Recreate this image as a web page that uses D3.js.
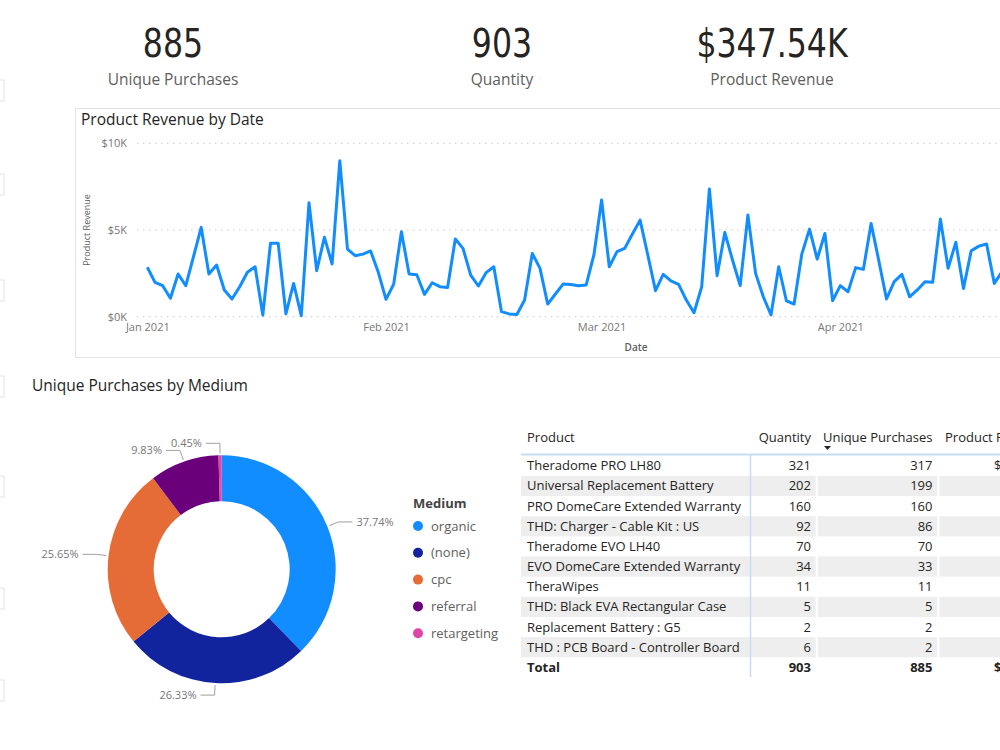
<!DOCTYPE html>
<html>
<head>
<meta charset="utf-8">
<script src="https://cdn.jsdelivr.net/npm/d3@7"></script>
<style>
  body { margin: 0; background: #fff; overflow: hidden; }
  text { font-family: "Segoe UI", "Open Sans", sans-serif; }
</style>
</head>
<body>
<script>
// ---- data ----
const kpiValues = ["885", "903", "$347.54K"];
const kpiLabels = ["Unique Purchases", "Quantity", "Product Revenue"];

// daily product revenue ($), starting 1 Jan 2021
const revenueStart = new Date(2021, 0, 1);
const dailyRevenue = [
  2850, 1980, 1790, 1060, 2460, 1790, 3460, 5150, 2460, 2980, 1540, 1020, 1730, 2560, 2880, 100,
  4230, 4230, 160, 1920, 60, 6570, 2650, 4580, 3040, 8990, 3900, 3520, 3610, 3790, 2560,
  1000, 1880, 4900, 2460, 2420, 1290, 1960, 1730, 1690, 4480, 3940, 2400, 1770, 2540, 2880,
  290, 160, 130, 960, 3650, 2790, 730, 1310, 1880, 1860, 1790, 1830, 3560,
  6730, 2880, 3750, 3940, 4770, 5570, 3560, 1500, 2440, 2060, 1860, 960, 230, 1730, 7360,
  2360, 4860, 3270, 1790, 5860, 2500, 1150, 100, 2880, 920, 730, 3610, 5050, 3320, 4800, 920,
  1790, 1440, 2830, 2730, 5380, 3230, 1020, 2020, 2440, 1150, 1540, 2020, 1980, 5630, 2790,
  4290, 1630, 3800, 4070, 4190, 1920, 2590
];
const revenueTicks = [0, 5000, 10000];

const mediums = ["organic", "(none)", "cpc", "referral", "retargeting"];
const mediumPurchases = [334, 233, 227, 87, 4];
const mediumColors = ["#118DFF", "#12239E", "#E66C37", "#6B007B", "#E044A7"];

const tableHeaders = ["Product", "Quantity", "Unique Purchases", "Product Revenue"];
const products = [
  "Theradome PRO LH80", "Universal Replacement Battery", "PRO DomeCare Extended Warranty",
  "THD: Charger - Cable Kit : US", "Theradome EVO LH40", "EVO DomeCare Extended Warranty",
  "TheraWipes", "THD: Black EVA Rectangular Case", "Replacement Battery : G5",
  "THD : PCB Board - Controller Board"
];
const productQuantity = [321, 202, 160, 92, 70, 34, 11, 5, 2, 6];
const productUnique = [317, 199, 160, 86, 70, 33, 11, 5, 2, 2];
const totalQuantity = 903;
const totalUnique = 885;
const totalRevenue = "$347.54K";

// ---- page ----
const svg = d3.select("body").append("svg")
  .attr("width", 1000)
  .attr("height", 750);

// slicer tiles clipped at the left edge
[80, 174, 280, 376, 476, 588, 680].forEach(t => {
  svg.append("rect").attr("x", -10).attr("y", t).attr("width", 14).attr("height", 21)
    .attr("fill", "#fff").attr("stroke", "#E3E3E3");
});

// KPI cards
const kpiX = [173, 502, 772];
kpiValues.forEach((v, i) => {
  svg.append("text")
    .attr("transform", `translate(${kpiX[i]},57) scale(0.9,1)`)
    .attr("text-anchor", "middle")
    .style("font-family", "'DejaVu Sans Condensed', 'DejaVu Sans', sans-serif")
    .style("font-size", "39px")
    .attr("fill", "#252423")
    .text(v);
  svg.append("text")
    .attr("x", kpiX[i]).attr("y", 85)
    .attr("text-anchor", "middle")
    .style("font-size", "15.5px")
    .attr("fill", "#605E5C")
    .text(kpiLabels[i]);
});

// ---- line chart ----
const lineG = svg.append("g");
lineG.append("rect")
  .attr("x", 75.5).attr("y", 108.5).attr("width", 1000).attr("height", 249)
  .attr("fill", "#fff").attr("stroke", "#E4E4E4");

lineG.append("text")
  .attr("x", 81).attr("y", 125)
  .style("font-size", "15.5px")
  .attr("fill", "#252423")
  .text("Product Revenue by Date");

const dates = dailyRevenue.map((d, i) => d3.timeDay.offset(revenueStart, i));
const x = d3.scaleTime()
  .domain([dates[0], dates[dates.length - 1]])
  .range([147.3, 147.3 + 7.7 * (dates.length - 1)]);
const y = d3.scaleLinear().domain([0, 10000]).range([316.7, 143.3]);

lineG.selectAll(".grid").data(revenueTicks).enter().append("line")
  .attr("x1", 137).attr("x2", 1000)
  .attr("y1", d => y(d)).attr("y2", d => y(d))
  .attr("stroke", "#C8C8C8")
  .attr("stroke-dasharray", "1.5,4.5");

const yAxis = lineG.append("g")
  .attr("transform", "translate(137,0)")
  .call(d3.axisLeft(y).tickValues(revenueTicks)
    .tickFormat(d => "$" + d / 1000 + "K").tickSize(0).tickPadding(10));
yAxis.select(".domain").remove();
yAxis.selectAll("text").style("font-size", "11px").attr("fill", "#777")
  .style("font-family", "'Segoe UI', 'Open Sans', sans-serif");

const xAxis = lineG.append("g")
  .attr("transform", "translate(0,317)")
  .call(d3.axisBottom(x).ticks(d3.timeMonth.every(1))
    .tickFormat(d3.timeFormat("%b %Y")).tickSize(0).tickPadding(6));
xAxis.select(".domain").remove();
xAxis.selectAll("text").style("font-size", "11px").attr("fill", "#777")
  .style("font-family", "'Segoe UI', 'Open Sans', sans-serif");

lineG.append("text")
  .attr("transform", "translate(90,230) rotate(-90)")
  .attr("text-anchor", "middle")
  .style("font-size", "9px")
  .attr("fill", "#605E5C")
  .text("Product Revenue");

lineG.append("text")
  .attr("x", 636).attr("y", 351)
  .attr("text-anchor", "middle")
  .style("font-size", "10px")
  .style("font-weight", "600")
  .attr("fill", "#605E5C")
  .text("Date");

lineG.append("path")
  .datum(dailyRevenue)
  .attr("fill", "none")
  .attr("stroke", "#118DFF")
  .attr("stroke-width", 3)
  .attr("stroke-linejoin", "round")
  .attr("d", d3.line().x((d, i) => x(dates[i])).y(d => y(d)));

// ---- donut ----
svg.append("text")
  .attr("x", 32).attr("y", 391)
  .style("font-size", "15.5px")
  .attr("fill", "#252423")
  .text("Unique Purchases by Medium");

const cx = 221.7, cy = 569.3, rOuter = 114, rInner = 68;
const totalPurch = d3.sum(mediumPurchases);
const pie = d3.pie().sort(null).value(d => d);
const arcs = pie(mediumPurchases);
const arc = d3.arc().innerRadius(rInner).outerRadius(rOuter);
const donut = svg.append("g").attr("transform", `translate(${cx},${cy})`);

donut.selectAll("path").data(arcs).enter().append("path")
  .attr("d", arc)
  .attr("fill", (d, i) => mediumColors[i]);

const pct = d3.format(".2%");
arcs.forEach(a => {
  const m = (a.startAngle + a.endAngle) / 2;
  const sx = Math.sin(m), sy = -Math.cos(m);
  const p0 = [sx * (rOuter + 2), sy * (rOuter + 2)];
  const p1 = [sx * 126, sy * 126];
  const dir = sx > 0 ? 1 : -1;
  const p2 = [p1[0] + dir * 14, p1[1]];
  donut.append("polyline")
    .attr("points", [p0, p1, p2].map(p => p.join(",")).join(" "))
    .attr("fill", "none").attr("stroke", "#A0A0A0").attr("stroke-width", 1);
  donut.append("text")
    .attr("x", p2[0] + dir * 4).attr("y", p2[1])
    .attr("dy", "0.35em")
    .attr("text-anchor", dir > 0 ? "start" : "end")
    .style("font-size", "11px")
    .attr("fill", "#777")
    .text(pct(a.value / totalPurch));
});

// legend
svg.append("text")
  .attr("x", 413).attr("y", 508)
  .style("font-size", "13px").style("font-weight", "bold")
  .attr("fill", "#444")
  .text("Medium");
const leg = svg.selectAll(".leg").data(mediums).enter().append("g")
  .attr("transform", (d, i) => `translate(418,${526 + i * 26.8})`);
leg.append("circle").attr("r", 5).attr("fill", (d, i) => mediumColors[i]);
leg.append("text").attr("x", 13).attr("dy", "0.35em")
  .style("font-size", "13px").attr("fill", "#605E5C").text(d => d);

// ---- table ----
const tbl = svg.append("g");
const rowTop = 455.7, rowH = 20.16, fs = "13px";
const colQtyR = 811, colUniqR = 932.5, colRevL = 945;

products.forEach((p, i) => {
  if (i % 2 === 1) {
    tbl.append("rect")
      .attr("x", 521).attr("y", rowTop + i * rowH)
      .attr("width", 480).attr("height", rowH)
      .attr("fill", "#EEEEEE");
  }
});
// white column separators inside shaded rows
[816.7, 938.3].forEach(cxs => {
  tbl.append("line").attr("x1", cxs).attr("x2", cxs)
    .attr("y1", rowTop).attr("y2", rowTop + products.length * rowH)
    .attr("stroke", "#fff").attr("stroke-width", 2);
});

tbl.append("line").attr("x1", 521).attr("x2", 1000).attr("y1", 454.5).attr("y2", 454.5)
  .attr("stroke", "#C5DDF3").attr("stroke-width", 2);
tbl.append("line").attr("x1", 750.5).attr("x2", 750.5).attr("y1", 455).attr("y2", 677)
  .attr("stroke", "#C5DDF3").attr("stroke-width", 1.5);

const hdrY = 442;
tbl.append("text").attr("x", 527).attr("y", hdrY).style("font-size", fs)
  .attr("fill", "#252423").text(tableHeaders[0]);
tbl.append("text").attr("x", colQtyR).attr("y", hdrY).attr("text-anchor", "end")
  .style("font-size", fs).attr("fill", "#252423").text(tableHeaders[1]);
tbl.append("text").attr("x", colUniqR).attr("y", hdrY).attr("text-anchor", "end")
  .style("font-size", fs).attr("fill", "#252423").text(tableHeaders[2]);
tbl.append("text").attr("x", colRevL).attr("y", hdrY)
  .style("font-size", fs).attr("fill", "#252423").text(tableHeaders[3]);
tbl.append("path").attr("d", "M824,446 L831,446 L827.5,450 Z").attr("fill", "#252423");

products.forEach((p, i) => {
  const ty = rowTop + i * rowH + rowH / 2;
  tbl.append("text").attr("x", 527).attr("y", ty).attr("dy", "0.35em")
    .style("font-size", fs).attr("fill", "#252423").text(p);
  tbl.append("text").attr("x", colQtyR).attr("y", ty).attr("dy", "0.35em")
    .attr("text-anchor", "end").style("font-size", fs).attr("fill", "#252423")
    .text(productQuantity[i]);
  tbl.append("text").attr("x", colUniqR).attr("y", ty).attr("dy", "0.35em")
    .attr("text-anchor", "end").style("font-size", fs).attr("fill", "#252423")
    .text(productUnique[i]);
});
// first revenue cell is cut off at the page edge, as in the dashboard
tbl.append("text").attr("x", 994).attr("y", rowTop + rowH / 2).attr("dy", "0.35em")
  .style("font-size", fs).attr("fill", "#252423").text("$");

const totY = rowTop + products.length * rowH + rowH / 2;
[["Total", 527, "start"], [totalQuantity, colQtyR, "end"], [totalUnique, colUniqR, "end"],
 [totalRevenue, 994, "start"]].forEach(([t, tx, anc]) => {
  tbl.append("text").attr("x", tx).attr("y", totY).attr("dy", "0.35em")
    .attr("text-anchor", anc).style("font-size", fs).style("font-weight", "bold")
    .attr("fill", "#252423").text(t);
});
</script>
</body>
</html>
